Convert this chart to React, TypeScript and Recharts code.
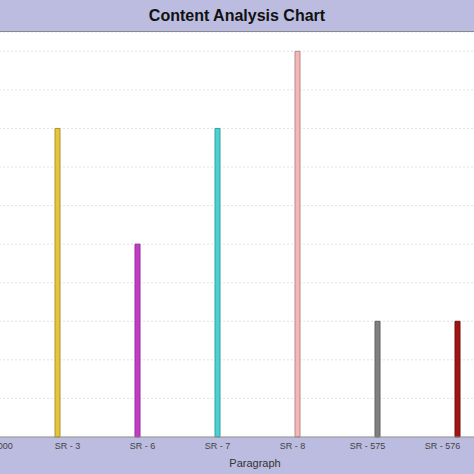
import React from 'react';
import { BarChart, Bar, XAxis, YAxis, CartesianGrid } from 'recharts';

// paragraphs along the axis (the first sits half outside the crop, the last is an empty slot)
const paragraphs = ['SR - 1000', 'SR - 3', 'SR - 6', 'SR - 7', 'SR - 8', 'SR - 575', 'SR - 576', ''];
// one series per paragraph, each only filled in its own category
const seriesNames = ['SR - 1000', 'SR - 3', 'SR - 6', 'SR - 7', 'SR - 8', 'SR - 575', 'SR - 576'];
const counts = [0, 8, 5, 8, 10, 3, 3];
const fills = ['#8080ff', '#e6c43c', '#c23cc4', '#4fd0d0', '#f4b6b6', '#808080', '#a01414'];
const outlines = ['#6060c0', '#b09428', '#962c98', '#2ea2a2', '#b48c8c', '#606060', '#701010'];
const yTicks = [0, 1, 2, 3, 4, 5, 6, 7, 8, 9, 10];

const data = paragraphs.map((name, i) => {
    const row: Record<string, string | number | null> = { name };
    seriesNames.forEach((_, k) => {
        row['s' + k] = k === i ? counts[k] : null;
    });
    return row;
});

const band = '#bbbcdf';

export default function App() {
    return (
        <div
            style={{
                position: 'absolute',
                left: 0,
                top: 0,
                width: 474,
                height: 474,
                overflow: 'hidden',
                background: band,
                fontFamily: '"Liberation Sans", Arial, sans-serif',
            }}
        >
            <div
                style={{
                    height: 31,
                    lineHeight: '31px',
                    textAlign: 'center',
                    fontWeight: 'bold',
                    fontSize: 16,
                    color: '#111',
                    borderBottom: '1px solid #8a8a8a',
                }}
            >
                Content Analysis Chart
            </div>
            <div style={{ position: 'absolute', left: -105.5, top: 32 }}>
                <BarChart
                    width={660}
                    height={442}
                    data={data}
                    barGap={0}
                    barCategoryGap={0}
                    margin={{ top: 0, right: 0, bottom: 0, left: 0 }}
                >
                    <CartesianGrid vertical={false} stroke="#e2e2e2" strokeDasharray="2 2" fill="#ffffff" />
                    <YAxis
                        width={60}
                        domain={[0, 10.5]}
                        ticks={yTicks}
                        axisLine={false}
                        tickLine={false}
                        tick={{ fontSize: 9, fill: '#444' }}
                    />
                    <XAxis
                        dataKey="name"
                        height={37}
                        interval={0}
                        axisLine={{ stroke: '#8c8c8c' }}
                        tickLine={false}
                        tickSize={3}
                        tickMargin={3}
                        tick={{ fontSize: 9, fill: '#444' }}
                        label={{ value: 'Paragraph', position: 'insideBottom', offset: 7, fontSize: 11, fill: '#333' }}
                    />
                    {seriesNames.map((s, k) => (
                        <Bar
                            key={s}
                            dataKey={'s' + k}
                            name={s}
                            barSize={5}
                            fill={fills[k]}
                            stroke={outlines[k]}
                            strokeWidth={1}
                            isAnimationActive={false}
                        />
                    ))}
                </BarChart>
            </div>
        </div>
    );
}
